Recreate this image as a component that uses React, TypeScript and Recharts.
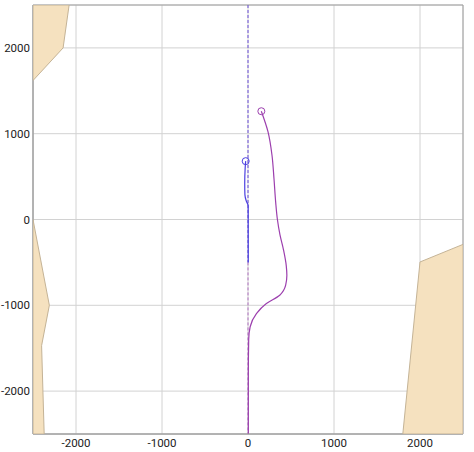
import React from "react";
import {
  ComposedChart,
  Line,
  Scatter,
  XAxis,
  YAxis,
  CartesianGrid,
  ReferenceArea,
} from "recharts";

const xTicks = [-2000, -1000, 0, 1000, 2000];
const yTicks = [-2000, -1000, 0, 1000, 2000];

const regionTopLeft = [
  { x: -2500, y: 2500 },
  { x: -2080, y: 2500 },
  { x: -2150, y: 2000 },
  { x: -2500, y: 1620 },
  { x: -2500, y: 2500 },
];
const regionBottomLeft = [
  { x: -2500, y: 0 },
  { x: -2310, y: -1000 },
  { x: -2400, y: -1470 },
  { x: -2370, y: -2500 },
  { x: -2500, y: -2500 },
  { x: -2500, y: 0 },
];
const regionRight = [
  { x: 2500, y: -290 },
  { x: 2000, y: -495 },
  { x: 1800, y: -2500 },
  { x: 2500, y: -2500 },
  { x: 2500, y: -290 },
];

const purpleLocus = [
  { x: 155, y: 1262 },
  { x: 233, y: 1021 },
  { x: 279, y: 749 },
  { x: 302, y: 478 },
  { x: 322, y: 200 },
  { x: 342, y: 0 },
  { x: 372, y: -180 },
  { x: 412, y: -350 },
  { x: 445, y: -540 },
  { x: 452, y: -650 },
  { x: 438, y: -766 },
  { x: 369, y: -882 },
  { x: 214, y: -979 },
  { x: 98, y: -1096 },
  { x: 25, y: -1250 },
  { x: 8, y: -1400 },
  { x: 4, y: -1800 },
  { x: 4, y: -2500 },
];
const blueLocus = [
  { x: -27, y: 680 },
  { x: -33, y: 600 },
  { x: -38, y: 420 },
  { x: -36, y: 290 },
  { x: -20, y: 215 },
  { x: 2, y: 160 },
  { x: 3, y: -500 },
];
const blueDashed = [
  { x: 0, y: 2500 },
  { x: 0, y: -500 },
];
const purpleDashed = [
  { x: 0, y: -500 },
  { x: 0, y: -2500 },
];
const purpleStart = [{ x: 155, y: 1262 }];
const blueStart = [{ x: -27, y: 680 }];

const FILL = "#f5e1bf";
const EDGE = "#c4b396";
const BLUE = "#4b3fe0";
const PURPLE = "#9c3fae";

const NoShape = () => <g />;
const ring = (color: string) => (props: any) =>
  <circle cx={props.cx} cy={props.cy} r={3.5} fill="none" stroke={color} strokeWidth={1} />;

export default function App() {
  const tickStyle = { fontFamily: "Roboto", fontSize: 11.5, fill: "#222" };
  return (
    <div style={{ position: "absolute", left: 0, top: 0 }}>
      <ComposedChart
        width={474}
        height={452}
        margin={{ top: 5, right: 11, left: 0, bottom: 0 }}
      >
        <CartesianGrid stroke="#d2d2d2" strokeWidth={1} />
        <XAxis
          type="number"
          dataKey="x"
          domain={[-2500, 2500]}
          ticks={xTicks}
          allowDataOverflow
          height={18}
          tickSize={0}
          tickMargin={5}
          tickLine={false}
          axisLine={{ stroke: "#a0a0a0" }}
          tick={tickStyle}
        />
        <YAxis
          type="number"
          dataKey="y"
          domain={[-2500, 2500]}
          ticks={yTicks}
          allowDataOverflow
          width={33}
          tickSize={0}
          tickMargin={3}
          tickLine={false}
          axisLine={{ stroke: "#a0a0a0" }}
          tick={tickStyle}
        />
        <Scatter data={regionTopLeft} shape={NoShape} line={{ fill: FILL, stroke: EDGE, strokeWidth: 1 }} isAnimationActive={false} />
        <Scatter data={regionBottomLeft} shape={NoShape} line={{ fill: FILL, stroke: EDGE, strokeWidth: 1 }} isAnimationActive={false} />
        <Scatter data={regionRight} shape={NoShape} line={{ fill: FILL, stroke: EDGE, strokeWidth: 1 }} isAnimationActive={false} />
        <Line data={blueDashed} dataKey="y" stroke="#6a4fd8" strokeWidth={1} strokeDasharray="3 2" dot={false} isAnimationActive={false} />
        <Line data={purpleDashed} dataKey="y" stroke="#b070c0" strokeWidth={1} strokeDasharray="3 2" dot={false} isAnimationActive={false} />
        <Line data={blueLocus} dataKey="y" type="monotoneY" stroke={BLUE} strokeWidth={1.2} dot={false} isAnimationActive={false} />
        <Line data={purpleLocus} dataKey="y" type="monotoneY" stroke={PURPLE} strokeWidth={1.2} dot={false} isAnimationActive={false} />
        <Scatter data={blueStart} shape={ring(BLUE)} isAnimationActive={false} />
        <Scatter data={purpleStart} shape={ring(PURPLE)} isAnimationActive={false} />
        <ReferenceArea x1={-2500} x2={2500} y1={-2500} y2={2500} fill="none" stroke="#a0a0a0" strokeWidth={1} ifOverflow="visible" />
      </ComposedChart>
    </div>
  );
}
